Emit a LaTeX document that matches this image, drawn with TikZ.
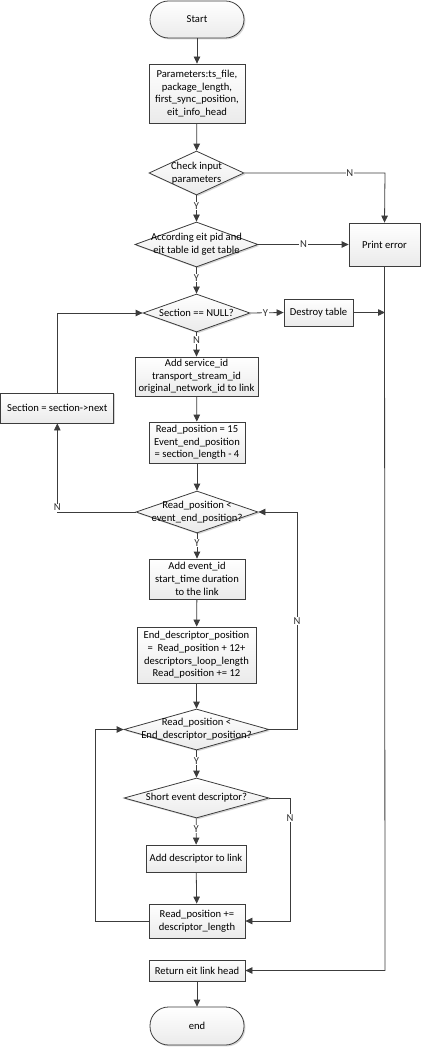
\documentclass[tikz,border=0pt]{standalone}
\usepackage{fontspec}
\setmainfont{Carlito}
\usetikzlibrary{shapes.geometric,arrows.meta,shadows}
\newcommand{\flowfont}{\fontsize{10.6}{12.7}\selectfont}
\definecolor{linec}{HTML}{3C3C3C}
\tikzset{
  base/.style={draw=linec, line width=0.8pt, top color=white, bottom color=gray!16,
    drop shadow={shadow xshift=1.4pt, shadow yshift=-1.4pt, fill=gray!60, opacity=0.55},
    font=\flowfont, align=center, inner sep=1pt},
  procbox/.style={base, rectangle},
  termbox/.style={base, rectangle, rounded corners=18.5pt},
  decbox/.style={base, diamond, inner sep=0pt},
  conn/.style={draw=linec, line width=0.8pt},
  arr/.style={conn, -{Triangle[length=7pt,width=6.5pt]}},
  yn/.style={fill=white, inner sep=0.6pt, font=\flowfont, text=linec!80!black},
  dlab/.style={align=center, font=\flowfont},
}
\begin{document}
\begin{tikzpicture}[x=1pt,y=-1pt]
\useasboundingbox (0,0) rectangle (422,1048);
% nodes
\node[termbox, minimum width=94pt, minimum height=37pt] (start) at (197,19.5) {Start};
\node[procbox, minimum width=96pt, minimum height=59pt] (params) at (197,93.5) {Parameters:ts\_file,\\package\_length,\\first\_sync\_position,\\eit\_info\_head};
\node[decbox, minimum width=95pt, minimum height=44pt, label={[dlab]center:Check input\\parameters}] (check) at (196.5,173) {};
\node[decbox, minimum width=123pt, minimum height=45pt, label={[dlab]center:According eit pid and\\eit table id get table}] (accord) at (196.5,244.5) {};
\node[procbox, minimum width=71pt, minimum height=43pt] (print) at (384.5,244.5) {Print error};
\node[decbox, minimum width=107pt, minimum height=38pt, label={[dlab]center:Section == NULL?}] (section) at (196.5,313) {};
\node[procbox, minimum width=69pt, minimum height=27pt] (destroy) at (318.5,312.5) {Destroy table};
\node[procbox, minimum width=113pt, minimum height=30pt] (next) at (57.3,408) {Section = section->next};
\node[procbox, minimum width=123pt, minimum height=39pt] (service) at (196.5,376.5) {Add service\_id\\transport\_stream\_id\\original\_network\_id to link};
\node[procbox, minimum width=96pt, minimum height=41pt] (read15) at (197,442.5) {Read\_position = 15\\Event\_end\_position\\= section\_length - 4};
\node[decbox, minimum width=122pt, minimum height=42pt, label={[dlab]center:Read\_position <\\event\_end\_position?}] (evend) at (197,512) {};
\node[procbox, minimum width=96pt, minimum height=40pt] (eventid) at (197,579) {Add event\_id\\start\_time duration\\to the link};
\node[procbox, minimum width=119pt, minimum height=56pt] (enddesc) at (196.5,655) {End\_descriptor\_position\\=\ \ Read\_position + 12+\\descriptors\_loop\_length\\Read\_position += 12};
\node[decbox, minimum width=145pt, minimum height=41pt, label={[dlab]center:Read\_position <\\End\_descriptor\_position?}] (readlt) at (196.5,729.5) {};
\node[decbox, minimum width=145pt, minimum height=40pt, label={[dlab]center:Short event descriptor?}] (short) at (196.5,798) {};
\node[procbox, minimum width=100pt, minimum height=27pt] (adddesc) at (196,858.5) {Add descriptor to link};
\node[procbox, minimum width=96pt, minimum height=34pt] (readadd) at (197,921) {Read\_position +=\\descriptor\_length};
\node[procbox, minimum width=96pt, minimum height=21pt] (ret) at (197,970.5) {Return eit link head};
\node[termbox, minimum width=94pt, minimum height=38pt] (end) at (197,1026) {end};
% helper coordinates
\coordinate (cR) at (385,173);
\coordinate (dR) at (385,312.5);
\coordinate (pB) at (385,970.5);
\coordinate (eL) at (57.3,512);
\coordinate (sL) at (57.3,313);
\coordinate (rR1) at (297,729.5);
\coordinate (rR2) at (297,512);
\coordinate (shR1) at (290,798);
\coordinate (shR2) at (290,921);
\coordinate (raL1) at (95,921);
\coordinate (raL2) at (95,729.5);
% connectors
\draw[arr] (start) -- (params);
\draw[arr] (params) -- (check);
\draw[arr] (check) -- node[yn, pos=0.4] {Y} (accord);
\draw[arr] (check.east) -- node[yn, pos=0.75] {N} (cR) -- (print.north);
\draw[arr] (accord.east) -- node[yn, pos=0.5] {N} (print.west);
\draw[arr] (accord) -- node[yn, pos=0.4] {Y} (section);
\draw[arr] (section.east) -- node[yn, pos=0.45] {Y} (destroy.west);
\draw[arr] (destroy.east) -- (dR);
\draw[arr] (section) -- node[yn, pos=0.3] {N} (service);
\draw[arr] (service) -- (read15);
\draw[arr] (read15) -- (evend);
\draw[arr] (evend.west) -- (eL) -- node[yn, pos=0.05] {N} (next.south);
\draw[arr] (next.north) -- (sL) -- (section.west);
\draw[arr] (evend) -- node[yn, pos=0.4] {Y} (eventid);
\draw[arr] (eventid) -- (enddesc);
\draw[arr] (enddesc) -- (readlt);
\draw[arr] (readlt.east) -- (rR1) -- node[yn, pos=0.5] {N} (rR2) -- (evend.east);
\draw[arr] (readlt) -- node[yn, pos=0.4] {Y} (short);
\draw[arr] (short.east) -- (shR1) -- node[yn, pos=0.16] {N} (shR2) -- (readadd.east);
\draw[arr] (short) -- node[yn, pos=0.4] {Y} (adddesc);
\draw[arr] (adddesc) -- (readadd);
\draw[arr] (readadd.west) -- (raL1) -- (raL2) -- (readlt.west);
\draw[arr] (print.south) -- (pB) -- (ret.east);
\draw[arr] (ret) -- (end);
\end{tikzpicture}
\end{document}
